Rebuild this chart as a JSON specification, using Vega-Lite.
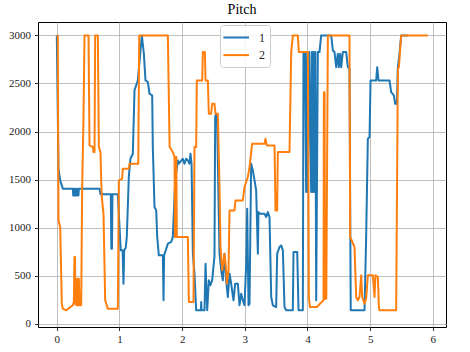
{
  "$schema": "https://vega.github.io/schema/vega-lite/v6.json",
  "autosize": {"type": "none"},
  "padding": {"left": 38, "top": 22, "right": 23, "bottom": 25},
  "width": 408,
  "height": 305,
  "background": "white",
  "title": {"text": "Pitch", "font": "Liberation Serif", "fontSize": 14, "fontWeight": "normal", "color": "#000", "offset": 5},
  "config": {
    "view": {"stroke": "#000", "strokeWidth": 1},
    "axis": {
      "domain": false,
      "grid": true,
      "gridColor": "#b0b0b0",
      "gridWidth": 0.8,
      "tickColor": "#000",
      "tickSize": 3.5,
      "tickWidth": 0.8,
      "labelFont": "Liberation Serif",
      "labelFontSize": 11,
      "labelColor": "#222",
      "title": null
    }
  },
  "data": {"values": [
    {"t": 0.000, "pitch": 3000, "series": "1"},
    {"t": 0.027, "pitch": 1613, "series": "1"},
    {"t": 0.054, "pitch": 1491, "series": "1"},
    {"t": 0.096, "pitch": 1405, "series": "1"},
    {"t": 0.256, "pitch": 1405, "series": "1"},
    {"t": 0.262, "pitch": 1335, "series": "1"},
    {"t": 0.272, "pitch": 1405, "series": "1"},
    {"t": 0.282, "pitch": 1335, "series": "1"},
    {"t": 0.292, "pitch": 1405, "series": "1"},
    {"t": 0.300, "pitch": 1335, "series": "1"},
    {"t": 0.309, "pitch": 1405, "series": "1"},
    {"t": 0.320, "pitch": 1335, "series": "1"},
    {"t": 0.336, "pitch": 1405, "series": "1"},
    {"t": 0.345, "pitch": 1335, "series": "1"},
    {"t": 0.352, "pitch": 1405, "series": "1"},
    {"t": 0.681, "pitch": 1405, "series": "1"},
    {"t": 0.697, "pitch": 1346, "series": "1"},
    {"t": 0.862, "pitch": 1346, "series": "1"},
    {"t": 0.870, "pitch": 780, "series": "1"},
    {"t": 0.880, "pitch": 780, "series": "1"},
    {"t": 0.888, "pitch": 1346, "series": "1"},
    {"t": 0.974, "pitch": 1346, "series": "1"},
    {"t": 1.020, "pitch": 763, "series": "1"},
    {"t": 1.050, "pitch": 763, "series": "1"},
    {"t": 1.064, "pitch": 416, "series": "1"},
    {"t": 1.075, "pitch": 763, "series": "1"},
    {"t": 1.100, "pitch": 790, "series": "1"},
    {"t": 1.117, "pitch": 902, "series": "1"},
    {"t": 1.149, "pitch": 1526, "series": "1"},
    {"t": 1.175, "pitch": 1717, "series": "1"},
    {"t": 1.213, "pitch": 1769, "series": "1"},
    {"t": 1.240, "pitch": 2430, "series": "1"},
    {"t": 1.293, "pitch": 2532, "series": "1"},
    {"t": 1.357, "pitch": 3000, "series": "1"},
    {"t": 1.389, "pitch": 2810, "series": "1"},
    {"t": 1.415, "pitch": 2532, "series": "1"},
    {"t": 1.453, "pitch": 2515, "series": "1"},
    {"t": 1.479, "pitch": 2393, "series": "1"},
    {"t": 1.522, "pitch": 2376, "series": "1"},
    {"t": 1.532, "pitch": 1838, "series": "1"},
    {"t": 1.559, "pitch": 1214, "series": "1"},
    {"t": 1.586, "pitch": 1179, "series": "1"},
    {"t": 1.602, "pitch": 902, "series": "1"},
    {"t": 1.628, "pitch": 711, "series": "1"},
    {"t": 1.692, "pitch": 711, "series": "1"},
    {"t": 1.703, "pitch": 243, "series": "1"},
    {"t": 1.712, "pitch": 711, "series": "1"},
    {"t": 1.772, "pitch": 832, "series": "1"},
    {"t": 1.825, "pitch": 850, "series": "1"},
    {"t": 1.851, "pitch": 900, "series": "1"},
    {"t": 1.890, "pitch": 1500, "series": "1"},
    {"t": 1.931, "pitch": 1699, "series": "1"},
    {"t": 1.947, "pitch": 1665, "series": "1"},
    {"t": 2.011, "pitch": 1717, "series": "1"},
    {"t": 2.037, "pitch": 1665, "series": "1"},
    {"t": 2.064, "pitch": 1717, "series": "1"},
    {"t": 2.091, "pitch": 1699, "series": "1"},
    {"t": 2.117, "pitch": 1665, "series": "1"},
    {"t": 2.133, "pitch": 1769, "series": "1"},
    {"t": 2.150, "pitch": 1665, "series": "1"},
    {"t": 2.171, "pitch": 728, "series": "1"},
    {"t": 2.197, "pitch": 520, "series": "1"},
    {"t": 2.224, "pitch": 139, "series": "1"},
    {"t": 2.298, "pitch": 139, "series": "1"},
    {"t": 2.304, "pitch": 225, "series": "1"},
    {"t": 2.310, "pitch": 139, "series": "1"},
    {"t": 2.357, "pitch": 139, "series": "1"},
    {"t": 2.373, "pitch": 624, "series": "1"},
    {"t": 2.400, "pitch": 139, "series": "1"},
    {"t": 2.426, "pitch": 451, "series": "1"},
    {"t": 2.450, "pitch": 400, "series": "1"},
    {"t": 2.479, "pitch": 450, "series": "1"},
    {"t": 2.516, "pitch": 700, "series": "1"},
    {"t": 2.527, "pitch": 2150, "series": "1"},
    {"t": 2.543, "pitch": 2185, "series": "1"},
    {"t": 2.559, "pitch": 2081, "series": "1"},
    {"t": 2.596, "pitch": 728, "series": "1"},
    {"t": 2.623, "pitch": 555, "series": "1"},
    {"t": 2.649, "pitch": 451, "series": "1"},
    {"t": 2.676, "pitch": 728, "series": "1"},
    {"t": 2.702, "pitch": 451, "series": "1"},
    {"t": 2.729, "pitch": 277, "series": "1"},
    {"t": 2.756, "pitch": 520, "series": "1"},
    {"t": 2.782, "pitch": 416, "series": "1"},
    {"t": 2.819, "pitch": 243, "series": "1"},
    {"t": 2.846, "pitch": 416, "series": "1"},
    {"t": 2.889, "pitch": 416, "series": "1"},
    {"t": 2.915, "pitch": 191, "series": "1"},
    {"t": 2.942, "pitch": 312, "series": "1"},
    {"t": 2.968, "pitch": 243, "series": "1"},
    {"t": 2.995, "pitch": 191, "series": "1"},
    {"t": 3.022, "pitch": 624, "series": "1"},
    {"t": 3.038, "pitch": 1197, "series": "1"},
    {"t": 3.048, "pitch": 700, "series": "1"},
    {"t": 3.059, "pitch": 191, "series": "1"},
    {"t": 3.075, "pitch": 208, "series": "1"},
    {"t": 3.101, "pitch": 1665, "series": "1"},
    {"t": 3.128, "pitch": 1595, "series": "1"},
    {"t": 3.155, "pitch": 1491, "series": "1"},
    {"t": 3.181, "pitch": 1387, "series": "1"},
    {"t": 3.208, "pitch": 728, "series": "1"},
    {"t": 3.218, "pitch": 1162, "series": "1"},
    {"t": 3.234, "pitch": 1145, "series": "1"},
    {"t": 3.314, "pitch": 1145, "series": "1"},
    {"t": 3.341, "pitch": 1110, "series": "1"},
    {"t": 3.367, "pitch": 1162, "series": "1"},
    {"t": 3.394, "pitch": 1110, "series": "1"},
    {"t": 3.421, "pitch": 277, "series": "1"},
    {"t": 3.447, "pitch": 191, "series": "1"},
    {"t": 3.500, "pitch": 173, "series": "1"},
    {"t": 3.516, "pitch": 728, "series": "1"},
    {"t": 3.554, "pitch": 798, "series": "1"},
    {"t": 3.580, "pitch": 815, "series": "1"},
    {"t": 3.607, "pitch": 763, "series": "1"},
    {"t": 3.633, "pitch": 173, "series": "1"},
    {"t": 3.660, "pitch": 139, "series": "1"},
    {"t": 3.766, "pitch": 139, "series": "1"},
    {"t": 3.777, "pitch": 746, "series": "1"},
    {"t": 3.836, "pitch": 746, "series": "1"},
    {"t": 3.857, "pitch": 139, "series": "1"},
    {"t": 3.926, "pitch": 139, "series": "1"},
    {"t": 3.936, "pitch": 2827, "series": "1"},
    {"t": 3.960, "pitch": 2827, "series": "1"},
    {"t": 3.979, "pitch": 1370, "series": "1"},
    {"t": 3.995, "pitch": 2827, "series": "1"},
    {"t": 4.006, "pitch": 1370, "series": "1"},
    {"t": 4.030, "pitch": 2827, "series": "1"},
    {"t": 4.059, "pitch": 1370, "series": "1"},
    {"t": 4.072, "pitch": 2827, "series": "1"},
    {"t": 4.085, "pitch": 1370, "series": "1"},
    {"t": 4.100, "pitch": 2827, "series": "1"},
    {"t": 4.112, "pitch": 1370, "series": "1"},
    {"t": 4.125, "pitch": 2827, "series": "1"},
    {"t": 4.139, "pitch": 243, "series": "1"},
    {"t": 4.165, "pitch": 2827, "series": "1"},
    {"t": 4.192, "pitch": 2827, "series": "1"},
    {"t": 4.218, "pitch": 3000, "series": "1"},
    {"t": 4.378, "pitch": 3000, "series": "1"},
    {"t": 4.405, "pitch": 2844, "series": "1"},
    {"t": 4.431, "pitch": 2827, "series": "1"},
    {"t": 4.458, "pitch": 2670, "series": "1"},
    {"t": 4.484, "pitch": 2810, "series": "1"},
    {"t": 4.500, "pitch": 2670, "series": "1"},
    {"t": 4.522, "pitch": 2810, "series": "1"},
    {"t": 4.538, "pitch": 2670, "series": "1"},
    {"t": 4.564, "pitch": 2827, "series": "1"},
    {"t": 4.617, "pitch": 2827, "series": "1"},
    {"t": 4.644, "pitch": 2670, "series": "1"},
    {"t": 4.670, "pitch": 2653, "series": "1"},
    {"t": 4.690, "pitch": 139, "series": "1"},
    {"t": 4.910, "pitch": 139, "series": "1"},
    {"t": 4.936, "pitch": 902, "series": "1"},
    {"t": 4.963, "pitch": 1925, "series": "1"},
    {"t": 4.990, "pitch": 1942, "series": "1"},
    {"t": 5.006, "pitch": 2532, "series": "1"},
    {"t": 5.096, "pitch": 2532, "series": "1"},
    {"t": 5.112, "pitch": 2670, "series": "1"},
    {"t": 5.133, "pitch": 2532, "series": "1"},
    {"t": 5.309, "pitch": 2532, "series": "1"},
    {"t": 5.335, "pitch": 2410, "series": "1"},
    {"t": 5.378, "pitch": 2376, "series": "1"},
    {"t": 5.399, "pitch": 2289, "series": "1"},
    {"t": 5.426, "pitch": 2289, "series": "1"},
    {"t": 5.442, "pitch": 2670, "series": "1"},
    {"t": 5.468, "pitch": 2810, "series": "1"},
    {"t": 5.495, "pitch": 3000, "series": "1"},
    {"t": 5.600, "pitch": 3000, "series": "1"},

    {"t": 0.000, "pitch": 3000, "series": "2"},
    {"t": 0.016, "pitch": 3000, "series": "2"},
    {"t": 0.027, "pitch": 1075, "series": "2"},
    {"t": 0.054, "pitch": 1006, "series": "2"},
    {"t": 0.080, "pitch": 208, "series": "2"},
    {"t": 0.096, "pitch": 156, "series": "2"},
    {"t": 0.150, "pitch": 139, "series": "2"},
    {"t": 0.203, "pitch": 166, "series": "2"},
    {"t": 0.256, "pitch": 191, "series": "2"},
    {"t": 0.272, "pitch": 225, "series": "2"},
    {"t": 0.282, "pitch": 694, "series": "2"},
    {"t": 0.290, "pitch": 694, "series": "2"},
    {"t": 0.298, "pitch": 200, "series": "2"},
    {"t": 0.309, "pitch": 468, "series": "2"},
    {"t": 0.320, "pitch": 191, "series": "2"},
    {"t": 0.330, "pitch": 468, "series": "2"},
    {"t": 0.340, "pitch": 191, "series": "2"},
    {"t": 0.352, "pitch": 468, "series": "2"},
    {"t": 0.362, "pitch": 191, "series": "2"},
    {"t": 0.389, "pitch": 191, "series": "2"},
    {"t": 0.405, "pitch": 1422, "series": "2"},
    {"t": 0.426, "pitch": 2150, "series": "2"},
    {"t": 0.442, "pitch": 3000, "series": "2"},
    {"t": 0.506, "pitch": 3000, "series": "2"},
    {"t": 0.522, "pitch": 1855, "series": "2"},
    {"t": 0.575, "pitch": 1838, "series": "2"},
    {"t": 0.586, "pitch": 1786, "series": "2"},
    {"t": 0.602, "pitch": 1786, "series": "2"},
    {"t": 0.612, "pitch": 3000, "series": "2"},
    {"t": 0.655, "pitch": 3000, "series": "2"},
    {"t": 0.671, "pitch": 1838, "series": "2"},
    {"t": 0.697, "pitch": 1786, "series": "2"},
    {"t": 0.708, "pitch": 1491, "series": "2"},
    {"t": 0.718, "pitch": 1318, "series": "2"},
    {"t": 0.745, "pitch": 1145, "series": "2"},
    {"t": 0.772, "pitch": 243, "series": "2"},
    {"t": 0.814, "pitch": 156, "series": "2"},
    {"t": 0.974, "pitch": 156, "series": "2"},
    {"t": 0.990, "pitch": 1491, "series": "2"},
    {"t": 1.043, "pitch": 1509, "series": "2"},
    {"t": 1.054, "pitch": 1613, "series": "2"},
    {"t": 1.149, "pitch": 1613, "series": "2"},
    {"t": 1.160, "pitch": 1665, "series": "2"},
    {"t": 1.300, "pitch": 1665, "series": "2"},
    {"t": 1.315, "pitch": 3000, "series": "2"},
    {"t": 1.772, "pitch": 3000, "series": "2"},
    {"t": 1.800, "pitch": 1838, "series": "2"},
    {"t": 1.851, "pitch": 1786, "series": "2"},
    {"t": 1.878, "pitch": 1735, "series": "2"},
    {"t": 1.885, "pitch": 902, "series": "2"},
    {"t": 1.892, "pitch": 1735, "series": "2"},
    {"t": 1.900, "pitch": 902, "series": "2"},
    {"t": 1.907, "pitch": 1735, "series": "2"},
    {"t": 1.915, "pitch": 902, "series": "2"},
    {"t": 2.091, "pitch": 902, "series": "2"},
    {"t": 2.107, "pitch": 225, "series": "2"},
    {"t": 2.181, "pitch": 225, "series": "2"},
    {"t": 2.197, "pitch": 1838, "series": "2"},
    {"t": 2.224, "pitch": 1838, "series": "2"},
    {"t": 2.234, "pitch": 2532, "series": "2"},
    {"t": 2.320, "pitch": 2532, "series": "2"},
    {"t": 2.330, "pitch": 2827, "series": "2"},
    {"t": 2.362, "pitch": 2827, "series": "2"},
    {"t": 2.373, "pitch": 2532, "series": "2"},
    {"t": 2.410, "pitch": 2532, "series": "2"},
    {"t": 2.426, "pitch": 2185, "series": "2"},
    {"t": 2.463, "pitch": 2185, "series": "2"},
    {"t": 2.479, "pitch": 2289, "series": "2"},
    {"t": 2.516, "pitch": 2289, "series": "2"},
    {"t": 2.532, "pitch": 2185, "series": "2"},
    {"t": 2.570, "pitch": 2185, "series": "2"},
    {"t": 2.596, "pitch": 1422, "series": "2"},
    {"t": 2.612, "pitch": 798, "series": "2"},
    {"t": 2.639, "pitch": 555, "series": "2"},
    {"t": 2.676, "pitch": 728, "series": "2"},
    {"t": 2.702, "pitch": 555, "series": "2"},
    {"t": 2.713, "pitch": 416, "series": "2"},
    {"t": 2.740, "pitch": 555, "series": "2"},
    {"t": 2.756, "pitch": 1179, "series": "2"},
    {"t": 2.835, "pitch": 1179, "series": "2"},
    {"t": 2.851, "pitch": 1283, "series": "2"},
    {"t": 2.968, "pitch": 1283, "series": "2"},
    {"t": 2.995, "pitch": 1422, "series": "2"},
    {"t": 3.048, "pitch": 1526, "series": "2"},
    {"t": 3.075, "pitch": 1630, "series": "2"},
    {"t": 3.117, "pitch": 1873, "series": "2"},
    {"t": 3.314, "pitch": 1873, "series": "2"},
    {"t": 3.330, "pitch": 1925, "series": "2"},
    {"t": 3.351, "pitch": 1855, "series": "2"},
    {"t": 3.474, "pitch": 1855, "series": "2"},
    {"t": 3.490, "pitch": 1179, "series": "2"},
    {"t": 3.516, "pitch": 1179, "series": "2"},
    {"t": 3.527, "pitch": 1786, "series": "2"},
    {"t": 3.713, "pitch": 1786, "series": "2"},
    {"t": 3.740, "pitch": 2827, "series": "2"},
    {"t": 3.766, "pitch": 3000, "series": "2"},
    {"t": 3.846, "pitch": 3000, "series": "2"},
    {"t": 3.862, "pitch": 2827, "series": "2"},
    {"t": 4.006, "pitch": 2827, "series": "2"},
    {"t": 4.022, "pitch": 277, "series": "2"},
    {"t": 4.040, "pitch": 173, "series": "2"},
    {"t": 4.150, "pitch": 173, "series": "2"},
    {"t": 4.200, "pitch": 208, "series": "2"},
    {"t": 4.256, "pitch": 243, "series": "2"},
    {"t": 4.262, "pitch": 2410, "series": "2"},
    {"t": 4.272, "pitch": 2410, "series": "2"},
    {"t": 4.280, "pitch": 260, "series": "2"},
    {"t": 4.300, "pitch": 260, "series": "2"},
    {"t": 4.325, "pitch": 3000, "series": "2"},
    {"t": 4.670, "pitch": 3000, "series": "2"},
    {"t": 4.681, "pitch": 902, "series": "2"},
    {"t": 4.750, "pitch": 798, "series": "2"},
    {"t": 4.777, "pitch": 277, "series": "2"},
    {"t": 4.803, "pitch": 243, "series": "2"},
    {"t": 4.830, "pitch": 277, "series": "2"},
    {"t": 4.857, "pitch": 503, "series": "2"},
    {"t": 4.873, "pitch": 277, "series": "2"},
    {"t": 4.910, "pitch": 208, "series": "2"},
    {"t": 4.936, "pitch": 260, "series": "2"},
    {"t": 4.963, "pitch": 503, "series": "2"},
    {"t": 5.043, "pitch": 503, "series": "2"},
    {"t": 5.069, "pitch": 277, "series": "2"},
    {"t": 5.085, "pitch": 503, "series": "2"},
    {"t": 5.123, "pitch": 486, "series": "2"},
    {"t": 5.139, "pitch": 173, "series": "2"},
    {"t": 5.149, "pitch": 139, "series": "2"},
    {"t": 5.415, "pitch": 139, "series": "2"},
    {"t": 5.442, "pitch": 2653, "series": "2"},
    {"t": 5.458, "pitch": 2670, "series": "2"},
    {"t": 5.495, "pitch": 3000, "series": "2"},
    {"t": 5.920, "pitch": 3000, "series": "2"}
  ]},
  "mark": {"type": "line", "strokeWidth": 2, "strokeJoin": "round", "clip": true},
  "encoding": {
    "x": {
      "field": "t", "type": "quantitative",
      "scale": {"domain": [-0.3, 6.21], "nice": false, "zero": false},
      "axis": {"values": [0, 1, 2, 3, 4, 5, 6], "format": "d", "labelPadding": 3}
    },
    "y": {
      "field": "pitch", "type": "quantitative",
      "scale": {"domain": [-35, 3140], "nice": false, "zero": false},
      "axis": {"values": [0, 500, 1000, 1500, 2000, 2500, 3000], "format": "d", "labelPadding": 4}
    },
    "color": {
      "field": "series", "type": "nominal",
      "scale": {"domain": ["1", "2"], "range": ["#1f77b4", "#ff7f0e"]},
      "legend": {
        "title": null,
        "orient": "none",
        "legendX": 182,
        "legendY": 3,
        "symbolType": "M-1.4,0H2.54",
        "symbolSize": 169,
        "symbolStrokeWidth": 2,
        "labelFont": "Liberation Serif",
        "labelFontSize": 12,
        "labelColor": "#222",
        "labelOffset": 19,
        "rowPadding": 3.6,
        "padding": 5,
        "strokeColor": "#cccccc",
        "fillColor": "rgba(255,255,255,0.85)",
        "cornerRadius": 3
      }
    }
  }
}
